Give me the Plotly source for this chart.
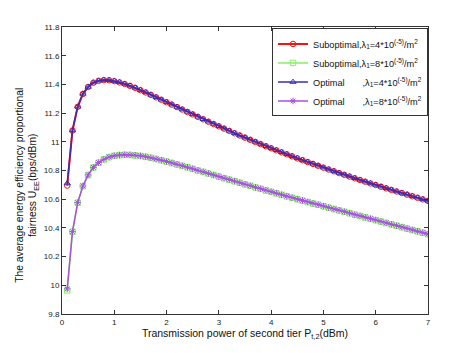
import plotly.graph_objects as go

x_power = [round(0.1 * i, 1) for i in range(1, 71)]

opt_l4 = [10.710, 11.080, 11.245, 11.335, 11.383, 11.413, 11.426, 11.431, 11.430, 11.424,
          11.415, 11.404, 11.391, 11.377, 11.361, 11.345, 11.328, 11.311, 11.294, 11.277,
          11.260, 11.243, 11.226, 11.209, 11.192, 11.175, 11.158, 11.141, 11.125, 11.109,
          11.093, 11.077, 11.061, 11.045, 11.030, 11.015, 11.000, 10.985, 10.970, 10.956,
          10.942, 10.928, 10.914, 10.900, 10.886, 10.873, 10.860, 10.847, 10.834, 10.821,
          10.808, 10.796, 10.783, 10.771, 10.759, 10.747, 10.735, 10.723, 10.711, 10.700,
          10.688, 10.677, 10.666, 10.655, 10.644, 10.633, 10.622, 10.611, 10.600, 10.589]

sub_l4 = [10.695, 11.079, 11.244, 11.334, 11.382, 11.412, 11.425, 11.430, 11.429, 11.423,
          11.414, 11.403, 11.390, 11.376, 11.360, 11.344, 11.327, 11.310, 11.293, 11.276,
          11.259, 11.242, 11.225, 11.208, 11.191, 11.174, 11.157, 11.140, 11.124, 11.108,
          11.092, 11.076, 11.060, 11.044, 11.029, 11.014, 10.999, 10.984, 10.969, 10.955,
          10.941, 10.927, 10.913, 10.899, 10.885, 10.872, 10.859, 10.846, 10.833, 10.820,
          10.807, 10.795, 10.782, 10.770, 10.758, 10.746, 10.734, 10.722, 10.710, 10.699,
          10.687, 10.676, 10.665, 10.654, 10.643, 10.632, 10.621, 10.610, 10.599, 10.588]

opt_l8 = [9.975, 10.374, 10.576, 10.692, 10.769, 10.822, 10.855, 10.878, 10.894, 10.903,
          10.908, 10.910, 10.909, 10.906, 10.902, 10.896, 10.889, 10.881, 10.872, 10.863,
          10.853, 10.843, 10.833, 10.823, 10.812, 10.801, 10.791, 10.780, 10.769, 10.758,
          10.747, 10.737, 10.726, 10.715, 10.704, 10.694, 10.683, 10.673, 10.662, 10.652,
          10.642, 10.631, 10.621, 10.611, 10.601, 10.591, 10.581, 10.571, 10.562, 10.552,
          10.542, 10.532, 10.523, 10.513, 10.503, 10.493, 10.484, 10.474, 10.464, 10.455,
          10.445, 10.435, 10.425, 10.416, 10.406, 10.396, 10.386, 10.377, 10.367, 10.357]

sub_l8 = [9.965, 10.373, 10.575, 10.691, 10.768, 10.821, 10.854, 10.877, 10.893, 10.902,
          10.907, 10.909, 10.908, 10.905, 10.901, 10.895, 10.888, 10.880, 10.871, 10.862,
          10.852, 10.842, 10.832, 10.822, 10.811, 10.800, 10.790, 10.779, 10.768, 10.757,
          10.746, 10.736, 10.725, 10.714, 10.703, 10.693, 10.682, 10.672, 10.661, 10.651,
          10.641, 10.630, 10.620, 10.610, 10.600, 10.590, 10.580, 10.570, 10.561, 10.551,
          10.541, 10.531, 10.522, 10.512, 10.502, 10.492, 10.483, 10.473, 10.463, 10.454,
          10.444, 10.434, 10.424, 10.415, 10.405, 10.395, 10.385, 10.376, 10.366, 10.356]

y_ticks = [9.8, 10.0, 10.2, 10.4, 10.6, 10.8, 11.0, 11.2, 11.4, 11.6, 11.8]
y_tick_text = ["9.8", "10", "10.2", "10.4", "10.6", "10.8", "11", "11.2", "11.4", "11.6", "11.8"]
x_ticks = [0, 1, 2, 3, 4, 5, 6, 7]

NB = "\u00a0"
names = [
    "Suboptimal,λ<sub>1</sub>=4*10<sup>(-5)</sup>/m<sup>2</sup>",
    "Suboptimal,λ<sub>1</sub>=8*10<sup>(-5)</sup>/m<sup>2</sup>",
    "Optimal" + NB * 7 + ",λ<sub>1</sub>=4*10<sup>(-5)</sup>/m<sup>2</sup>",
    "Optimal" + NB * 7 + ",λ<sub>1</sub>=8*10<sup>(-5)</sup>/m<sup>2</sup>",
]

FONT = "Liberation Sans, Arial"

fig = go.Figure()
fig.add_trace(go.Scatter(x=x_power, y=sub_l4, name=names[0], mode="lines+markers",
                         line=dict(color="#ff1010", width=2),
                         marker=dict(symbol="circle-open", size=5.5, color="#ff1010", line=dict(width=1))))
fig.add_trace(go.Scatter(x=x_power, y=sub_l8, name=names[1], mode="lines+markers",
                         line=dict(color="#88ee66", width=1.5),
                         marker=dict(symbol="square-open", size=5.5, color="#88ee66", line=dict(width=1))))
fig.add_trace(go.Scatter(x=x_power, y=opt_l4, name=names[2], mode="lines+markers",
                         line=dict(color="#3a2cb4", width=1.5),
                         marker=dict(symbol="triangle-up-open", size=5.5, color="#3a2cb4", line=dict(width=1))))
fig.add_trace(go.Scatter(x=x_power, y=opt_l8, name=names[3], mode="lines+markers",
                         line=dict(color="#a552e0", width=1.5),
                         marker=dict(symbol="asterisk-open", size=5.5, color="#a552e0", line=dict(width=1))))

axis_common = dict(showgrid=False, zeroline=False, showline=True, linecolor="#333333", linewidth=1,
                   mirror="ticks", ticks="inside", ticklen=4, tickcolor="#333333",
                   tickfont=dict(size=8, color="#222222", family=FONT))

fig.update_xaxes(range=[0, 7], tickvals=x_ticks, **axis_common,
                 title=dict(text="Transmission power of second tier P<sub>t,2</sub>(dBm)",
                            font=dict(size=10.5, color="#111111", family=FONT),
                            standoff=0))
fig.update_yaxes(range=[9.8, 11.8], tickvals=y_ticks, ticktext=y_tick_text, **axis_common)

fig.add_annotation(xref="paper", yref="paper", x=-0.093, y=0.45, xanchor="center", yanchor="middle",
                   textangle=-90, showarrow=False, align="center",
                   text="The average energy efficiency proportional<br>fairness U<sub>EE</sub>(bps/dBm)",
                   font=dict(size=10.3, color="#111111", family=FONT))

fig.update_layout(
    width=474, height=353,
    margin=dict(l=62, r=46, t=27, b=39),
    paper_bgcolor="white", plot_bgcolor="white",
    showlegend=True,
    legend=dict(x=1, y=0.995, xanchor="right", yanchor="top", bgcolor="white",
                bordercolor="#333333", borderwidth=1, itemwidth=30,
                font=dict(size=9.2, color="#111111", family=FONT),
                tracegroupgap=0),
)

fig.write_html("out.html")
